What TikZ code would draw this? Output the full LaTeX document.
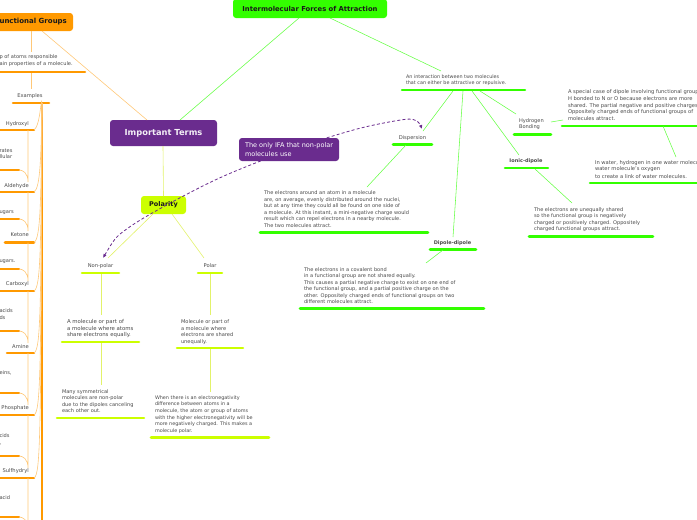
\documentclass[tikz,border=0pt]{standalone}
\usepackage{fontspec}
\setmainfont{DejaVu Sans}
\usetikzlibrary{arrows.meta}
\definecolor{grn}{HTML}{33FF00}
\definecolor{grnl}{HTML}{66FF44}
\definecolor{orn}{HTML}{FF9900}
\definecolor{ornl}{HTML}{FFC878}
\definecolor{ylw}{HTML}{CCFF00}
\definecolor{ylwl}{HTML}{E2F26A}
\definecolor{prp}{HTML}{6A2C8E}
\definecolor{txt}{HTML}{4A4A4A}
\definecolor{dtxt}{HTML}{1A1A1A}
\begin{document}
\begin{tikzpicture}[x=1pt,y=-1pt,
 every node/.style={inner sep=0pt, outer sep=0pt, text=txt},
 tx/.style={anchor=north west, align=left, font=\fontsize{5.05}{6.5}\selectfont},
 lbl/.style={font=\fontsize{5.2}{6.3}\selectfont, text height=3.8pt, text depth=1pt},
 blbl/.style={font=\fontsize{5}{6.3}\bfseries\selectfont, text height=3.8pt, text depth=1pt},
 gU/.style={draw=grn, line width=2.6pt, line cap=round},
 oU/.style={draw=orn, line width=2.6pt, line cap=round},
 yU/.style={draw=ylw, line width=2.6pt, line cap=round},
 gL/.style={draw=grnl, line width=0.55pt},
 oL/.style={draw=ornl, line width=0.6pt},
 yL/.style={draw=ylwl, line width=0.6pt},
 topicbox/.style={rounded corners=3pt, align=center},
 relline/.style={draw=prp, line width=0.8pt, dash pattern=on 3pt off 2.2pt,
   {Latex[length=4pt,width=3.6pt]}-{Latex[length=4pt,width=3.6pt]}}
]
\useasboundingbox (0,0) rectangle (697,520);
\clip (0,0) rectangle (697,520);

% ---------- main boxes ----------
\node[topicbox, fill=grn, minimum width=154pt, minimum height=19pt,
  font=\fontsize{6.8}{7.5}\bfseries\selectfont, text=dtxt] (ifa) at (310,8.5) {Intermolecular Forces of Attraction};
\node[topicbox, fill=prp, minimum width=107pt, minimum height=26pt,
  font=\fontsize{8.3}{9}\bfseries\selectfont, text=white!92!prp] (imp) at (163.5,133) {Important Terms};
\node[topicbox, fill=ylw, minimum width=45pt, minimum height=18pt,
  font=\fontsize{6.5}{7}\bfseries\selectfont, text=dtxt] (pol) at (163.5,205) {Polarity};
\node[topicbox, fill=orn, minimum width=84pt, minimum height=18pt,
  font=\fontsize{7}{8}\bfseries\selectfont, text=dtxt] (fg) at (31,22) {Functional Groups};

% ---------- coordinates ----------
\coordinate (ifaL) at (299,18);
\coordinate (ifaR) at (330,18);
\coordinate (impT) at (180,120);
\coordinate (impTL) at (147,120);
\coordinate (impB) at (163,146);
\coordinate (fgB) at (31,31);
\coordinate (fgR) at (42,31);

% ---------- intro (green) ----------
\node[tx, font=\fontsize{4.85}{6.3}\selectfont] (intro) at (406,74.6) {An interaction between two molecules\\that can either be attractive or repulsive.};
\draw[gU] (402,90) -- (525,90);
\coordinate (introT) at (441,71);
\coordinate (introA) at (453,91);
\coordinate (introB) at (463,91);
\coordinate (introC) at (472,91);
\coordinate (introD) at (480,91);

% Hydrogen bonding
\node[tx, font=\fontsize{5.1}{6.3}\selectfont] (hyd) at (519,118.6) {Hydrogen\\Bonding};
\draw[gU] (514,134.5) -- (551,134.5);
\coordinate (hydT) at (516,114);
\coordinate (hydR) at (551,122);
\node[tx, font=\fontsize{5.2}{6.75}\selectfont] (spec) at (568,89.6) {A special case of dipole involving functional groups\\H bonded to N or O because electrons are more\\shared. The partial negative and positive charges\\Oppositely charged ends of functional groups of\\molecules attract.};
\draw[gU] (562,126) -- (700,126);
\coordinate (specL) at (563,120);
\coordinate (specB) at (663,126);
\node[tx, font=\fontsize{5.2}{6.2}\selectfont] (water) at (595,160.6) {In water, hydrogen in one water molecule\\water molecule's oxygen\\[1.6pt]to create a link of water molecules.};
\draw[gU] (590,183) -- (700,183);
\coordinate (waterT) at (676,157);

% Dispersion
\node[lbl] (disp) at (412.5,138) {Dispersion};
\draw[gU] (393,144.5) -- (432,144.5);
\coordinate (dispT) at (423,131);
\coordinate (dispA) at (422,129);
\coordinate (dispB) at (406,145);
\node[tx] (dispX) at (264,190.8) {The electrons around an atom in a molecule\\are, on average, evenly distributed around the nuclei,\\but at any time they could all be found on one side of\\a molecule. At this instant, a mini-negative charge would\\result which can repel electrons in a nearby molecule.\\The two molecules attract.};
\draw[gU] (260,232.5) -- (428,232.5);
\coordinate (dispXT) at (367,187);

% Ionic-dipole
\node[blbl] (ion) at (526,161) {Ionic-dipole};
\draw[gU] (505,168) -- (548,168);
\coordinate (ionT) at (519,155);
\coordinate (ionB) at (535,169);
\node[tx] (ionX) at (534,207.6) {The electrons are unequally shared\\so the functional group is negatively\\charged or positively charged. Oppositely\\charged functional groups attract.};
\draw[gU] (529,236.5) -- (653,236.5);
\coordinate (ionXT) at (572,203);

% Dipole-dipole
\node[blbl] (dip) at (452.5,243) {Dipole-dipole};
\draw[gU] (430,249.5) -- (476,249.5);
\coordinate (dipT) at (453,237);
\coordinate (dipB) at (443,250);
\node[tx] (dipX) at (304,267.6) {The electrons in a covalent bond\\in a functional group are not shared equally.\\This causes a partial negative charge to exist on one end of\\the functional group, and a partial positive charge on the\\other. Oppositely charged ends of functional groups on two\\different molecules attract.};
\draw[gU] (300,308.5) -- (484,308.5);
\coordinate (dipXT) at (426,263);

% ---------- polarity (yellow) ----------
\node[lbl] (np) at (100.5,266) {Non-polar};
\draw[yU] (82,273) -- (119,273);
\node[lbl] (pl) at (210,266) {Polar};
\draw[yU] (198,273) -- (222,273);
\coordinate (polL) at (153,214);
\coordinate (polR) at (172,214);
\coordinate (npT) at (108,258);
\coordinate (npA) at (103,258);
\coordinate (plT) at (204,258);
\coordinate (npB) at (101,274);
\coordinate (plB) at (210,274);

\node[tx, font=\fontsize{5.4}{6.6}\selectfont] (np1) at (67,319.5) {A molecule or part of\\a molecule where atoms\\share electrons equally.};
\draw[yU] (62,342) -- (139,342);
\coordinate (np1T) at (101,315);
\coordinate (np1B) at (101,343);
\node[tx, font=\fontsize{5.05}{6.4}\selectfont] (np2) at (62,389.6) {Many symmetrical\\molecules are non-polar\\due to the dipoles canceling\\each other out.};
\draw[yU] (57,418) -- (144,418);
\coordinate (np2T) at (101,385);

\node[tx, font=\fontsize{5.1}{6.7}\selectfont] (p1) at (181,319.6) {Molecule or part of\\a molecule where\\electrons are shared\\unequally.};
\draw[yU] (177,348) -- (243,348);
\coordinate (p1T) at (210,315);
\coordinate (p1B) at (210,349);
\node[tx, font=\fontsize{4.9}{6.6}\selectfont] (p2) at (155,395.6) {When there is an electronegativity\\difference between atoms in a\\molecule, the atom or group of atoms\\with the higher electronegativity will be\\more negatively charged. This makes a\\molecule polar.};
\draw[yU] (151,437.5) -- (269,437.5);
\coordinate (p2T) at (210,392);

% ---------- functional groups (orange) ----------
\node[tx, font=\fontsize{5.1}{6.8}\selectfont] (fgdef) at (-0.5,55) {p of atoms responsible\\ain properties of a molecule.};
\draw[oU] (-5,72) -- (85,72);
\coordinate (fgdefT) at (31,52);
\coordinate (fgdefB) at (31,73);
\node[lbl] (ex) at (30,96) {Examples};
\draw[oU] (13,103) -- (49,103);
\coordinate (exT) at (31,89);
\coordinate (exB) at (42,103);
\coordinate (exEnd) at (42,522);
\draw[draw=orn, line width=1.6pt] (exB) -- (exEnd);

\foreach \nm/\lab/\yc/\yu/\xa in {hy/Hydroxyl/124/130/-5, al/Aldehyde/186/192/-5, ke/Ketone/235/242.5/5, ca/Carboxyl/284/291/-5, am/Amine/347/353/7, ph/Phosphate/408/415/-5, su/Sulfhydryl/471/478/-5}{
  \node[lbl, anchor=east] (\nm) at (28.8,\yc) {\lab};
  \draw[oU] (\xa,\yu) -- (34,\yu);
  \coordinate (\nm U) at (34,\yu);
  \coordinate (\nm S) at (28,\yu);
  \draw[oL] (exB) .. controls (41,\yc-30) and (40.5,\yu-4) .. (\nm U);
}
\foreach \nm/\ft/\yt/\yu/\pp in {s1/{rates\\llular}/148.6/170/hy, s2/{ugars}/210.6/219/al, s3/{ugars.}/259.6/269/ke, s4/{acids\\ds}/308.6/331/ca, s5/{eins,}/370.6/393/am, s6/{cids\\,}/433.6/456/ph, s7/{acid}/495.6/517/su}{
  \node[tx, font=\fontsize{5.1}{6.6}\selectfont] (\nm) at (-0.5,\yt) {\ft};
  \draw[oU] (-5,\yu) -- (19,\yu);
  \coordinate (\nm U) at (19,\yu);
  \draw[oL] (\pp S) -- ([yshift=-12pt]\nm U -| \pp S) .. controls ([yshift=-3pt]\nm U -| \pp S) and ([xshift=4pt]\nm U) .. (\nm U);
}

% ---------- connectors ----------
\draw[gL] (ifaL) -- (impT);
\draw[gL] (ifaR) -- (introT);
\draw[gL] (introA) -- (dispT);
\draw[gL] (introB) -- (dipT);
\draw[gL] (introC) -- (ionT);
\draw[gL] (introD) -- (hydT);
\draw[gL] (hydR) -- (specL);
\draw[gL] (specB) -- (waterT);
\draw[gL] (dispB) -- (dispXT);
\draw[gL] (ionB) -- (ionXT);
\draw[gL] (dipB) -- (dipXT);

\draw[yL] (impB) -- (pol.north);
\draw[yL] (polL) -- (npT);
\draw[yL] (polR) -- (plT);
\draw[yL] (npB) -- (np1T);
\draw[yL] (np1B) -- (np2T);
\draw[yL] (plB) -- (p1T);
\draw[yL] (p1B) -- (p2T);

\draw[oL] (fgB) -- (fgdefT);
\draw[oL] (fgdefB) -- (exT);
\draw[oL] (fgR) -- (impTL);

% ---------- relationship ----------
\coordinate (r1) at (131,226);
\coordinate (r2) at (213,181);
\coordinate (r3) at (290,150);
\coordinate (r4) at (357,129);
\coordinate (r5) at (404,119.5);
\coordinate (r6) at (417,121);
\draw[relline] plot[smooth, tension=0.5] coordinates {(npA) (r1) (r2) (r3) (r4) (r5) (r6) (dispA)};
\node[topicbox, fill=prp, minimum width=100pt, minimum height=23pt, align=left,
  font=\fontsize{6.5}{8.4}\selectfont, text=white] (rel) at (289,149.5) {The only IFA that non-polar\\molecules use};
\end{tikzpicture}
\end{document}
